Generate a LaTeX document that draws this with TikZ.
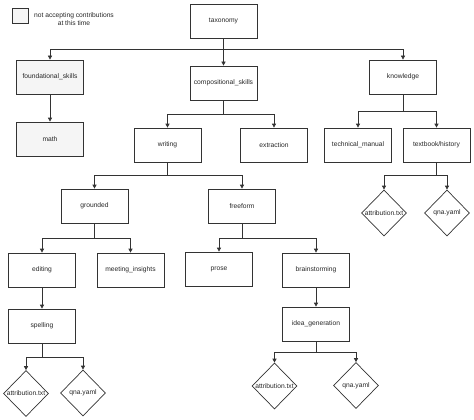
\documentclass[tikz,border=0pt]{standalone}
\usepackage{fontspec}
\setmainfont{Liberation Sans}
\usetikzlibrary{arrows.meta,shapes.geometric}

\begin{document}
\begin{tikzpicture}[
        x=1pt, y=-1pt,
        font=\fontsize{6.7}{8}\selectfont,
        box/.style={draw=black!80, line width=0.7pt, minimum width=67pt, minimum height=34pt, inner sep=0pt, text=black!85},
        closed/.style={box, fill=black!4},
        file/.style={diamond, draw=black!80, line width=0.7pt, minimum width=45pt, minimum height=46pt, inner sep=0pt, text=black!85},
        link/.style={draw=black!80, line width=0.7pt, -{Triangle[length=4pt,width=4pt]}},
    ]
        \useasboundingbox (0,0) rectangle (474,420);

        \node[closed, minimum width=16pt, minimum height=15pt] (legend) at (20,15.5) {};
        \node[align=center, text=black!85] (legendtext) at (74,19.5) {not accepting contributions\\at this time};

        \node[box] (taxonomy) at (223.5,21) {taxonomy};
        \node[closed] (found) at (50,77) {foundational\_skills};
        \node[box] (comp) at (223.5,83) {compositional\_skills};
        \node[box] (know) at (403,77) {knowledge};

        \node[closed] (math) at (50,139) {math};
        \node[box] (writing) at (167.5,145) {writing};
        \node[box] (extraction) at (274,145) {extraction};
        \node[box] (techman) at (358,145) {technical\_manual};
        \node[box] (textbook) at (436.5,145) {textbook/history};

        \node[box] (grounded) at (94.5,206) {grounded};
        \node[box] (freeform) at (242,206) {freeform};
        \node[file] (kattr) at (384,213) {attribution.txt};
        \node[file] (kqna) at (447,213) {qna.yaml};

        \node[box] (editing) at (42,270) {editing};
        \node[box] (meeting) at (130.5,270) {meeting\_insights};
        \node[box] (prose) at (219,269) {prose};
        \node[box] (brainstorm) at (316,270) {brainstorming};

        \node[box] (spelling) at (42,326) {spelling};
        \node[box] (idea) at (316,324) {idea\_generation};

        \node[file] (sattr) at (26,393.5) {attribution.txt};
        \node[file] (sqna) at (83,393) {qna.yaml};
        \node[file] (iattr) at (274.5,386) {attribution.txt};
        \node[file] (iqna) at (356,385.5) {qna.yaml};

        \draw[link] (taxonomy.south) -- ++(0,11) -| (found.north);
        \draw[link] (taxonomy.south) -- (comp.north);
        \draw[link] (taxonomy.south) -- ++(0,11) -| (know.north);

        \draw[link] (found.south) -- (math.north);
        \draw[link] (comp.south) -- ++(0,14) -| (writing.north);
        \draw[link] (comp.south) -- ++(0,14) -| (extraction.north);
        \draw[link] (know.south) -- ++(0,17) -| (techman.north);
        \draw[link] (know.south) -- ++(0,17) -| (textbook.north);

        \draw[link] (writing.south) -- ++(0,13) -| (grounded.north);
        \draw[link] (writing.south) -- ++(0,13) -| (freeform.north);
        \draw[link] (textbook.south) -- ++(0,13) -| (kattr.north);
        \draw[link] (textbook.south) -- ++(0,13) -| (kqna.north);

        \draw[link] (grounded.south) -- ++(0,15) -| (editing.north);
        \draw[link] (grounded.south) -- ++(0,15) -| (meeting.north);
        \draw[link] (freeform.south) -- ++(0,15) -| (prose.north);
        \draw[link] (freeform.south) -- ++(0,15) -| (brainstorm.north);

        \draw[link] (editing.south) -- (spelling.north);
        \draw[link] (brainstorm.south) -- (idea.north);

        \draw[link] (spelling.south) -- ++(0,14) -| (sattr.north);
        \draw[link] (spelling.south) -- ++(0,14) -| (sqna.north);
        \draw[link] (idea.south) -- ++(0,11) -| (iattr.north);
        \draw[link] (idea.south) -- ++(0,11) -| (iqna.north);
    \end{tikzpicture}
\end{document}
